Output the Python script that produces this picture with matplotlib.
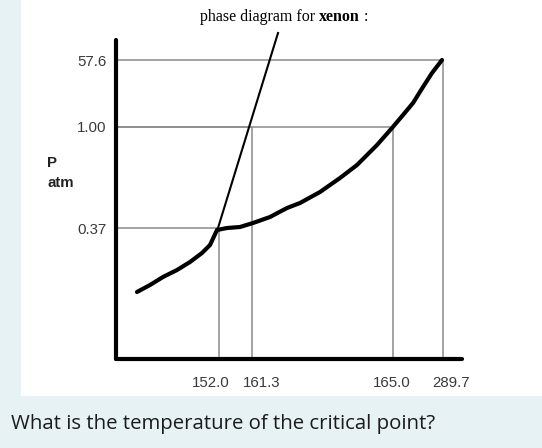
import matplotlib
matplotlib.use("Agg")
import matplotlib.pyplot as plt
from matplotlib.patches import Rectangle
import matplotlib.transforms as mtransforms

# ---- data (schematic positions, the diagram is not to scale) ----
t_tick_labels = ["152.0", "161.3", "165.0", "289.7"]
t_tick_pos = [103, 136, 277, 327]
p_tick_labels = ["0.37", "1.00", "57.6"]
p_tick_pos = [131, 232, 299]

# guide points: (temperature index, pressure index)
guide_t_idx = [0, 1, 2, 3]
guide_p_idx = [0, 1, 1, 2]

# sublimation + vaporization curve
curve_x = [21, 34, 47, 61, 74, 86, 94, 101, 111, 124, 137, 154, 171, 184,
           204, 224, 241, 261, 276, 287, 297, 307, 316, 326]
curve_y = [67, 74, 82, 89, 97, 106, 114, 129, 131, 132, 136, 142, 151, 156,
           167, 181, 194, 214, 231, 244, 256, 272, 286, 299]

# melting line
melt_x = [102, 162]
melt_y = [131, 326]

W, H, DPI = 542, 448, 100
fig = plt.figure(figsize=(W / DPI, H / DPI), dpi=DPI)
fig.patch.set_facecolor("#e7f2f5")
fig.patches.append(Rectangle((21 / W, 1 - 396 / H), 1 - 21 / W, 396 / H,
                             transform=fig.transFigure, facecolor="white",
                             edgecolor="none", zorder=-5))

ax = fig.add_axes([116 / W, 1 - 359 / H, (462 - 116) / W, (359 - 40) / H])
ax.set_zorder(2)
ax.set_facecolor("none")
ax.set_xlim(0, 346)
ax.set_ylim(0, 319)

for s in ["top", "right"]:
    ax.spines[s].set_visible(False)
for s in ["left", "bottom"]:
    ax.spines[s].set_linewidth(3.0)
    ax.spines[s].set_color("black")
    ax.spines[s].set_capstyle("round")

grid_c = "#8a8a8a"
for ti, pi in zip(guide_t_idx, guide_p_idx):
    x = t_tick_pos[ti]
    y = p_tick_pos[pi]
    ax.plot([0, x], [y, y], color=grid_c, lw=1.1, zorder=1, solid_capstyle="butt")
    ax.plot([x, x], [0, y], color=grid_c, lw=1.1, zorder=1, solid_capstyle="butt")

ax.plot(curve_x, curve_y, color="black", lw=3.0, solid_capstyle="round",
        solid_joinstyle="round", zorder=3)
ax.plot(melt_x, melt_y, color="black", lw=1.5, clip_on=False, zorder=3)

ax.set_xticks(t_tick_pos)
ax.set_xticklabels(t_tick_labels)
ax.set_yticks(p_tick_pos)
ax.set_yticklabels(p_tick_labels)
ax.tick_params(axis="x", length=0, pad=12)
ax.tick_params(axis="y", length=0, pad=7)
for lab in ax.get_xticklabels() + ax.get_yticklabels():
    lab.set_fontfamily("Liberation Sans")
    lab.set_fontsize(10.8)
    lab.set_color("#3a3a3a")
# small offsets of the x labels as in the original drawing
offsets_px = [-8, 10, -1, 8]
for lab, dx in zip(ax.get_xticklabels(), offsets_px):
    lab.set_transform(lab.get_transform() +
                      mtransforms.ScaledTranslation(dx / DPI, 0, fig.dpi_scale_trans))

fig.text(47 / W, 1 - 163 / H, "P", fontfamily="Liberation Sans", fontweight="bold",
         fontsize=10.8, ha="left", va="center", color="#222222")
fig.text(47 / W, 1 - 183 / H, "atm", fontfamily="Liberation Sans", fontweight="bold",
         fontsize=10.8, ha="left", va="center", color="#222222")

# title with bold "xenon"
fig.canvas.draw()
r = fig.canvas.get_renderer()
ty = 1 - 17 / H
x0 = 200 / W
parts = [("phase diagram for ", "normal"), ("xenon", "bold"), (" :", "normal")]
x = x0
for txt, wt in parts:
    t = fig.text(x, ty, txt, fontfamily="Liberation Serif", fontweight=wt,
                 fontsize=11.5, ha="left", va="center", color="black")
    bb = t.get_window_extent(renderer=r)
    x = bb.x1 / W

fig.text(11 / W, 1 - 424 / H, "What is the temperature of the critical point?",
         fontfamily="Open Sans", fontsize=14.7, ha="left", va="center", color="#1b1b1b")

fig.savefig("out.png", dpi=DPI, facecolor=fig.get_facecolor())
